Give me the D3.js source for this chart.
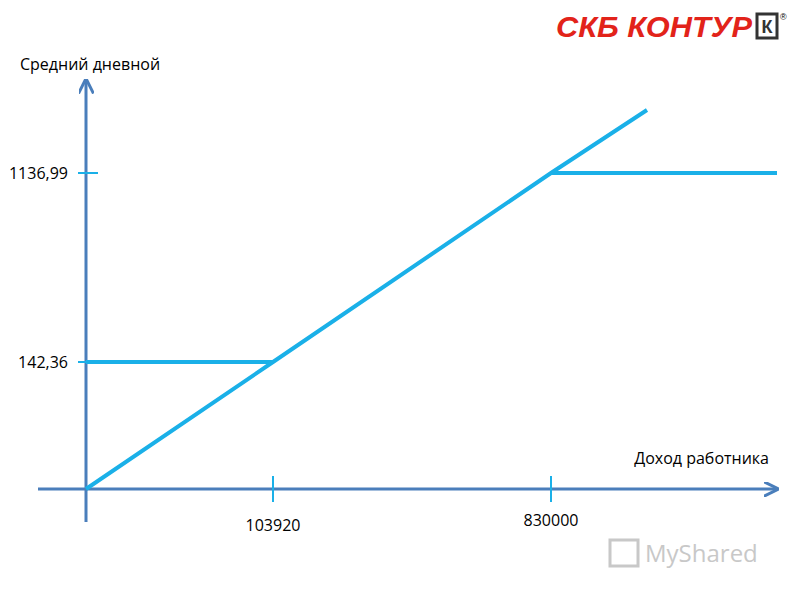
<!DOCTYPE html>
<html><head><meta charset="utf-8">
<script src="https://cdn.jsdelivr.net/npm/d3@7"></script>
<style>body{margin:0;background:#fff}</style></head>
<body><svg id="c" width="800" height="600"></svg>
<script>
// schematic data
const xTicks = [103920, 830000];
const xTickLabels = ["103920", "830000"];
const yTicks = [142.36, 1136.99];
const yTickLabels = ["142,36", "1136,99"];
const diagonal = [[0,0],[103920,142.36],[830000,1136.99],[1030000,1400]];
const lowerCap = [[0,142.36],[103920,142.36]];
const upperCap = [[830000,1136.99],[1300000,1136.99]];

const svg = d3.select("#c");
// piecewise (schematic) scales
const x = d3.scaleLinear().domain([-260000,0,103920,830000,1030000,1300000]).range([38,86,273,551,647,777]);
const y = d3.scaleLinear().domain([-100,0,142.36,1136.99,1400,1600]).range([522,489,362,173,110,80]);
const axisCol = "#4a7ebb", lineCol = "#1ab0e8";
const font = "Open Sans, Arial";

const defs = svg.append("defs");
defs.append("marker").attr("id","ar").attr("viewBox","0 0 10 10").attr("refX",9).attr("refY",5)
  .attr("markerWidth",5).attr("markerHeight",5).attr("orient","auto")
  .append("path").attr("d","M0,0 L10,5 L0,10").attr("fill","none").attr("stroke",axisCol).attr("stroke-width",2);

svg.append("line").attr("x1",x(-260000)).attr("x2",x(1300000)).attr("y1",y(0)).attr("y2",y(0))
  .attr("stroke",axisCol).attr("stroke-width",3).attr("marker-end","url(#ar)");
svg.append("line").attr("x1",x(0)).attr("x2",x(0)).attr("y1",y(-100)).attr("y2",y(1600))
  .attr("stroke",axisCol).attr("stroke-width",3).attr("marker-end","url(#ar)");

xTicks.forEach((t,i)=>{
  svg.append("line").attr("x1",x(t)).attr("x2",x(t)).attr("y1",y(0)-13).attr("y2",y(0)+13).attr("stroke",lineCol).attr("stroke-width",2);
  svg.append("text").attr("x",x(t)).attr("y",y(0)+ (i==0?42:37)).attr("text-anchor","middle")
    .attr("font-family",font).attr("font-size",16).text(xTickLabels[i]);
});
yTicks.forEach((t,i)=>{
  svg.append("line").attr("x1",x(0)-8).attr("x2",x(0)+12).attr("y1",y(t)).attr("y2",y(t)).attr("stroke",lineCol).attr("stroke-width",2);
  svg.append("text").attr("x",x(0)-18).attr("y",y(t)+6).attr("text-anchor","end")
    .attr("font-family",font).attr("font-size",16).text(yTickLabels[i]);
});

const line = d3.line().x(d=>x(d[0])).y(d=>y(d[1]));
[diagonal, lowerCap, upperCap].forEach(d=>svg.append("path").attr("d",line(d)).attr("fill","none")
  .attr("stroke",lineCol).attr("stroke-width",4));

svg.append("text").attr("x",20).attr("y",70).attr("font-family",font).attr("font-size",16).text("Средний дневной");
svg.append("text").attr("x",769).attr("y",464).attr("text-anchor","end").attr("font-family",font).attr("font-size",16).text("Доход работника");

// logo
svg.append("text").attr("x",556).attr("y",37).attr("font-family","Liberation Sans Narrow, Liberation Sans").attr("font-weight","bold")
  .attr("font-style","italic").attr("font-size",30).attr("fill","#e2231a").attr("textLength",196).attr("lengthAdjust","spacingAndGlyphs").text("СКБ КОНТУР");
svg.append("rect").attr("x",757).attr("y",14).attr("width",20).attr("height",24).attr("fill","#fff").attr("stroke","#333").attr("stroke-width",3);
svg.append("text").attr("x",767).attr("y",33).attr("text-anchor","middle").attr("font-family","Liberation Sans").attr("font-weight","bold").attr("font-size",18).attr("fill","#333").text("К");
svg.append("text").attr("x",780).attr("y",20).attr("font-family","Liberation Sans").attr("font-size",9).text("®");
// watermark
svg.append("text").attr("x",645).attr("y",562).attr("font-family",font).attr("font-size",24).attr("fill","#c8c8c8").text("MyShared");
svg.append("rect").attr("x",610).attr("y",540).attr("width",28).attr("height",26).attr("fill","none").attr("stroke","#c8c8c8").attr("stroke-width",3);
</script></body></html>
